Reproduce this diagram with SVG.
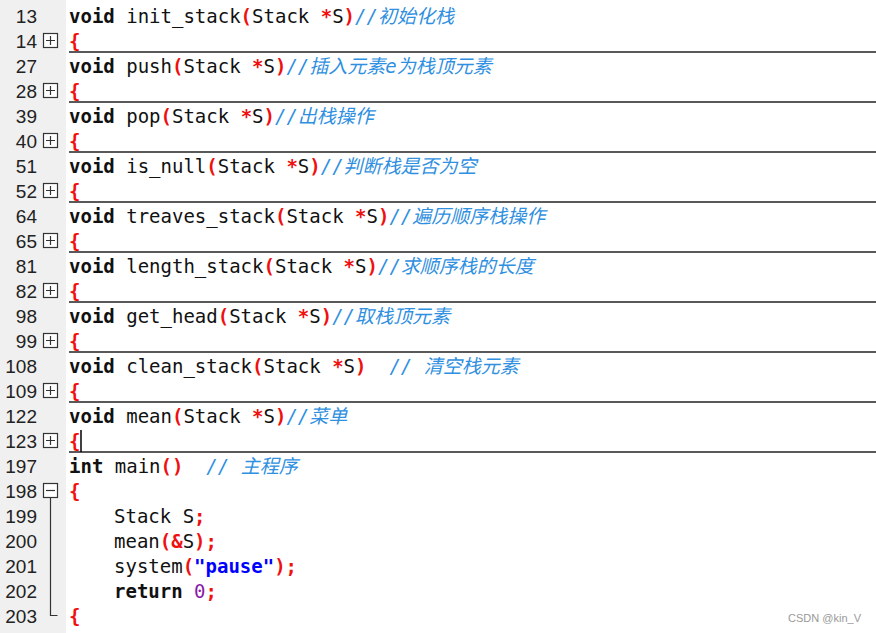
<svg xmlns="http://www.w3.org/2000/svg" width="876" height="633" viewBox="0 0 876 633">
<style>
.n{font:19px "Liberation Sans",sans-serif;fill:#222;text-anchor:end}
.c{font:19px "DejaVu Sans Mono","Noto Sans CJK SC",monospace;fill:#111;white-space:pre}
.k{font-weight:bold}
.r{fill:#f01010;font-weight:bold}
.m{fill:#2f8fe0;font-style:italic;font-family:"DejaVu Sans Mono","Noto Sans CJK SC",monospace}
.s{fill:#0000ff;font-weight:bold}
.p{fill:#8a1aa8}
.sep{stroke:#222;stroke-width:1.3}
.fb{fill:#fff;stroke:#333;stroke-width:1.2}
.fl{stroke:#333;stroke-width:1.2;fill:none}
</style>
<rect width="876" height="633" fill="#fff"/>
<rect width="66" height="633" fill="#f0f0f0"/>
<g id="seps">
<line class="sep" x1="69" y1="52" x2="876" y2="52"/><line class="sep" x1="69" y1="102" x2="876" y2="102"/><line class="sep" x1="69" y1="152" x2="876" y2="152"/><line class="sep" x1="69" y1="202" x2="876" y2="202"/><line class="sep" x1="69" y1="252" x2="876" y2="252"/><line class="sep" x1="69" y1="302" x2="876" y2="302"/><line class="sep" x1="69" y1="352" x2="876" y2="352"/><line class="sep" x1="69" y1="402" x2="876" y2="402"/><line class="sep" x1="69" y1="452" x2="876" y2="452"/>
</g>
<g id="numbers">
<text class="n" x="37" y="23">13</text><text class="n" x="37" y="48">14</text>
<text class="n" x="37" y="73">27</text><text class="n" x="37" y="98">28</text>
<text class="n" x="37" y="123">39</text><text class="n" x="37" y="148">40</text>
<text class="n" x="37" y="173">51</text><text class="n" x="37" y="198">52</text>
<text class="n" x="37" y="223">64</text><text class="n" x="37" y="248">65</text>
<text class="n" x="37" y="273">81</text><text class="n" x="37" y="298">82</text>
<text class="n" x="37" y="323">98</text><text class="n" x="37" y="348">99</text>
<text class="n" x="37" y="373">108</text><text class="n" x="37" y="398">109</text>
<text class="n" x="37" y="423">122</text><text class="n" x="37" y="448">123</text>
<text class="n" x="37" y="473">197</text><text class="n" x="37" y="498">198</text>
<text class="n" x="37" y="523">199</text><text class="n" x="37" y="548">200</text>
<text class="n" x="37" y="573">201</text><text class="n" x="37" y="598">202</text>
<text class="n" x="37" y="623">203</text>
</g>
<g id="folds">
<g><rect class="fb" x="43.5" y="33.5" width="14" height="14"/><path class="fl" d="M46 40.5h9M50.5 36v9"/></g>
<g transform="translate(0,50)"><rect class="fb" x="43.5" y="33.5" width="14" height="14"/><path class="fl" d="M46 40.5h9M50.5 36v9"/></g>
<g transform="translate(0,100)"><rect class="fb" x="43.5" y="33.5" width="14" height="14"/><path class="fl" d="M46 40.5h9M50.5 36v9"/></g>
<g transform="translate(0,150)"><rect class="fb" x="43.5" y="33.5" width="14" height="14"/><path class="fl" d="M46 40.5h9M50.5 36v9"/></g>
<g transform="translate(0,200)"><rect class="fb" x="43.5" y="33.5" width="14" height="14"/><path class="fl" d="M46 40.5h9M50.5 36v9"/></g>
<g transform="translate(0,250)"><rect class="fb" x="43.5" y="33.5" width="14" height="14"/><path class="fl" d="M46 40.5h9M50.5 36v9"/></g>
<g transform="translate(0,300)"><rect class="fb" x="43.5" y="33.5" width="14" height="14"/><path class="fl" d="M46 40.5h9M50.5 36v9"/></g>
<g transform="translate(0,350)"><rect class="fb" x="43.5" y="33.5" width="14" height="14"/><path class="fl" d="M46 40.5h9M50.5 36v9"/></g>
<g transform="translate(0,400)"><rect class="fb" x="43.5" y="33.5" width="14" height="14"/><path class="fl" d="M46 40.5h9M50.5 36v9"/></g>
<g><rect class="fb" x="43.5" y="483.5" width="14" height="14"/><path class="fl" d="M46 490.5h9"/><path class="fl" d="M50.5 497.5V615.5h7"/></g>
</g>
<g id="code">
<text class="c" x="69" y="23"><tspan class="k">void</tspan> init_stack<tspan class="r">(</tspan>Stack <tspan class="r">*</tspan>S<tspan class="r">)</tspan><tspan class="m">//初始化栈</tspan></text>
<text class="c r" x="69" y="48">{</text>
<text class="c" x="69" y="73"><tspan class="k">void</tspan> push<tspan class="r">(</tspan>Stack <tspan class="r">*</tspan>S<tspan class="r">)</tspan><tspan class="m">//插入元素e为栈顶元素</tspan></text>
<text class="c r" x="69" y="98">{</text>
<text class="c" x="69" y="123"><tspan class="k">void</tspan> pop<tspan class="r">(</tspan>Stack <tspan class="r">*</tspan>S<tspan class="r">)</tspan><tspan class="m">//出栈操作</tspan></text>
<text class="c r" x="69" y="148">{</text>
<text class="c" x="69" y="173"><tspan class="k">void</tspan> is_null<tspan class="r">(</tspan>Stack <tspan class="r">*</tspan>S<tspan class="r">)</tspan><tspan class="m">//判断栈是否为空</tspan></text>
<text class="c r" x="69" y="198">{</text>
<text class="c" x="69" y="223"><tspan class="k">void</tspan> treaves_stack<tspan class="r">(</tspan>Stack <tspan class="r">*</tspan>S<tspan class="r">)</tspan><tspan class="m">//遍历顺序栈操作</tspan></text>
<text class="c r" x="69" y="248">{</text>
<text class="c" x="69" y="273"><tspan class="k">void</tspan> length_stack<tspan class="r">(</tspan>Stack <tspan class="r">*</tspan>S<tspan class="r">)</tspan><tspan class="m">//求顺序栈的长度</tspan></text>
<text class="c r" x="69" y="298">{</text>
<text class="c" x="69" y="323"><tspan class="k">void</tspan> get_head<tspan class="r">(</tspan>Stack <tspan class="r">*</tspan>S<tspan class="r">)</tspan><tspan class="m">//取栈顶元素</tspan></text>
<text class="c r" x="69" y="348">{</text>
<text class="c" x="69" y="373" xml:space="preserve"><tspan class="k">void</tspan> clean_stack<tspan class="r">(</tspan>Stack <tspan class="r">*</tspan>S<tspan class="r">)</tspan>  <tspan class="m">// 清空栈元素</tspan></text>
<text class="c r" x="69" y="398">{</text>
<text class="c" x="69" y="423"><tspan class="k">void</tspan> mean<tspan class="r">(</tspan>Stack <tspan class="r">*</tspan>S<tspan class="r">)</tspan><tspan class="m">//菜单</tspan></text>
<text class="c r" x="69" y="448">{</text>
<line x1="81" y1="430" x2="81" y2="452" stroke="#000" stroke-width="1.5"/>
<text class="c" x="69" y="473" xml:space="preserve"><tspan class="k">int</tspan> main<tspan class="r">()</tspan>  <tspan class="m">// 主程序</tspan></text>
<text class="c r" x="69" y="498">{</text>
<text class="c" x="114" y="523">Stack S<tspan class="r">;</tspan></text>
<text class="c" x="114" y="548">mean<tspan class="r">(&amp;</tspan>S<tspan class="r">);</tspan></text>
<text class="c" x="114" y="573">system<tspan class="r">(</tspan><tspan class="s">"pause"</tspan><tspan class="r">);</tspan></text>
<text class="c" x="114" y="598"><tspan class="k">return</tspan> <tspan class="p">0</tspan><tspan class="r">;</tspan></text>
<text class="c r" x="69" y="623">{</text>
</g>
<text x="861" y="622" font-family="Liberation Sans,Noto Sans CJK SC,sans-serif" font-size="11" fill="#999" text-anchor="end">CSDN @kin_V</text>
</svg>
